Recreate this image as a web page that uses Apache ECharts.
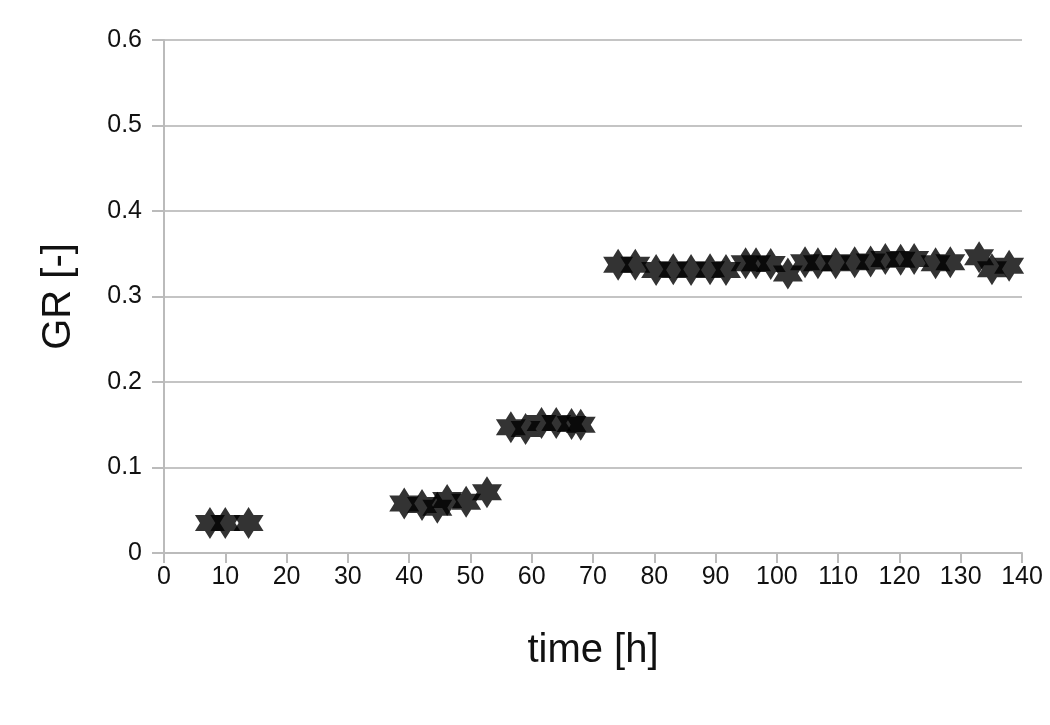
<!DOCTYPE html><html><head><meta charset="utf-8"><script src="https://cdn.jsdelivr.net/npm/echarts@6/dist/echarts.min.js"></script></head><body style="margin:0;background:#fff"><div id="c" style="width:1050px;height:725px"></div><script>
const timeH=[7.5,10,13.8,39.2,42.1,44.6,46.2,49.3,52.7,56.6,59,61.6,64,66.5,68,74.1,76.9,80.3,83.1,86,89.1,91.7,94.9,96.6,99,101.8,104.6,106.7,109.6,112.7,115.3,117.7,120.2,122.4,125.9,128.3,133,135.1,137.9];
const gr=[0.035,0.035,0.035,0.058,0.056,0.053,0.062,0.060,0.071,0.147,0.145,0.152,0.152,0.151,0.150,0.337,0.337,0.331,0.332,0.331,0.332,0.331,0.339,0.339,0.338,0.327,0.340,0.339,0.339,0.340,0.341,0.344,0.343,0.344,0.339,0.340,0.346,0.332,0.336];
const xTicks=[0,140,10], yTicks=[0,0.6,0.1];
const star='path://M0,-10L2.89,-5L8.66,-5L5.77,0L8.66,5L2.89,5L0,10L-2.89,5L-8.66,5L-5.77,0L-8.66,-5L-2.89,-5Z';
const ch=echarts.init(document.getElementById('c'));
const lab={color:'#111',fontFamily:'Liberation Sans, Arial',fontSize:25};
ch.setOption({animation:false,
grid:{left:164,right:28,top:40,bottom:172},
xAxis:{type:'value',min:xTicks[0],max:xTicks[1],interval:xTicks[2],name:'time [h]',nameLocation:'middle',nameGap:78,
 nameTextStyle:{fontSize:40,color:'#111',fontFamily:'Liberation Sans, Arial'},
 axisLine:{lineStyle:{color:'#bbb',width:2}},axisTick:{show:true,length:10,lineStyle:{color:'#bbb',width:2}},
 axisLabel:Object.assign({margin:12},lab),splitLine:{show:false}},
yAxis:{type:'value',min:yTicks[0],max:yTicks[1],interval:yTicks[2],name:'GR [-]',nameLocation:'middle',nameGap:85,
 nameTextStyle:{fontSize:40,color:'#111',fontFamily:'Liberation Sans, Arial'},
 axisLine:{show:true,lineStyle:{color:'#bbb',width:2}},axisTick:{show:true,length:12,lineStyle:{color:'#bbb',width:2}},
 axisLabel:Object.assign({margin:22,formatter:v=>v===0?'0':v.toFixed(1)},lab),splitLine:{lineStyle:{color:'#c4c4c4',width:2}}},
series:[{type:'scatter',data:timeH.map((t,i)=>[t,gr[i]]),symbol:star,symbolSize:[30,32],itemStyle:{color:'#000'}}]});
</script></body></html>
